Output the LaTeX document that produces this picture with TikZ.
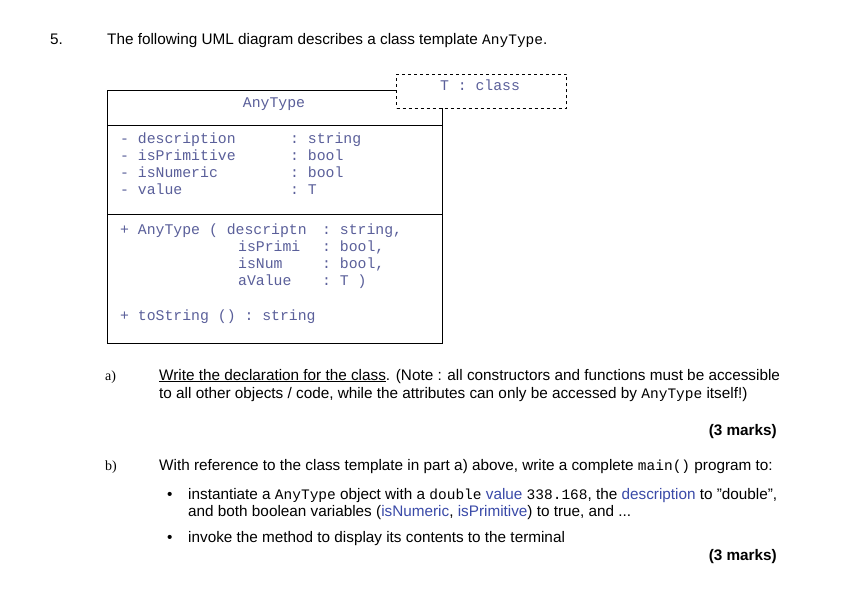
\documentclass[tikz,border=0pt]{standalone}
\usepackage{fontspec}
\setmainfont{Liberation Sans}
\setmonofont{Liberation Mono}
\newfontfamily\serifx{Liberation Serif}
\definecolor{umlc}{HTML}{5A5F9A}
\definecolor{hl}{HTML}{3A4AA8}
\begin{document}
\begin{tikzpicture}[x=1pt,y=-1pt,
  txt/.style={anchor=base west,inner sep=0pt,font=\fontsize{15.3}{17}\selectfont},
  mono/.style={anchor=base west,inner sep=0pt,font=\fontsize{14.8}{17}\ttfamily,text=umlc},
  frame/.style={draw,line width=0.8pt}]
\useasboundingbox[fill=white] (0,0) rectangle (856,593);
\node[txt] (num) at (50,45) {5.};
\node[txt] (intro) at (107,45) {The following UML diagram describes a class template {\ttfamily\fontsize{14.5}{17}\selectfont AnyType}.};
% class box
\draw[frame] (107,90) rectangle (442,343);
\draw[frame] (107,125) -- (442,125);
\draw[frame] (107,214) -- (442,214);
\node[frame,dashed,fill=white,minimum width=170pt,minimum height=34pt,inner sep=0pt,anchor=north west,line width=1pt] (tparam) at (396,74) {};
\node[mono,anchor=base] (tlab) at (480,91) {T : class};
\node[mono,anchor=base] (cname) at (274,108) {AnyType};
\foreach \n/\t/\y in {description/string/144,isPrimitive/bool/161,isNumeric/bool/178,value/T/195}{
  \node[mono] (a\n) at (120,\y) {- \n};
  \node[mono] (t\n) at (290,\y) {: \t};
}
\node[mono] (ctor) at (120,235) {+ AnyType ( descriptn};
\node[mono] (c1) at (322,235) {: string,};
\foreach \n/\t/\y in {isPrimi/{bool,}/252,isNum/{bool,}/269,aValue/{T )}/286}{
  \node[mono] (p\n) at (238,\y) {\n};
  \node[mono] (q\n) at (322,\y) {: \t};
}
\node[mono] (tostr) at (120,320) {+ toString () : string};
% part a
\node[txt,font=\fontsize{14}{17}\serifx] (la) at (105,380) {a)};
\node[txt] (qa1) at (159,380) {\underline{Write the declaration for the class}. (Note : all constructors and functions must be accessible};
\node[txt] (qa2) at (159,398) {to all other objects / code, while the attributes can only be accessed by {\ttfamily\fontsize{14.5}{17}\selectfont AnyType} itself!)};
\node[txt,anchor=base east,font=\fontsize{15.3}{17}\bfseries] (ma) at (777,435) {(3 marks)};
% part b
\node[txt,font=\fontsize{14}{17}\serifx] (lb) at (105,470) {b)};
\node[txt] (qb) at (159,470) {With reference to the class template in part a) above, write a complete {\ttfamily\fontsize{14.5}{17}\selectfont main()} program to:};
\node[txt] (b1) at (167,499) {\textbullet};
\node[txt] (qb1) at (188,499) {instantiate a {\ttfamily\fontsize{14.5}{17}\selectfont AnyType} object with a {\ttfamily\fontsize{14.5}{17}\selectfont double} \textcolor{hl}{value} {\ttfamily\fontsize{14.5}{17}\selectfont 338.168}, the \textcolor{hl}{description} to \symbol{34}double\symbol{34},};
\node[txt] (qb2) at (188,516) {and both boolean variables (\textcolor{hl}{isNumeric}, \textcolor{hl}{isPrimitive}) to true, and ...};
\node[txt] (b2) at (167,542) {\textbullet};
\node[txt] (qb3) at (188,542) {invoke the method to display its contents to the terminal};
\node[txt,anchor=base east,font=\fontsize{15.3}{17}\bfseries] (mb) at (777,560) {(3 marks)};
\end{tikzpicture}
\end{document}
